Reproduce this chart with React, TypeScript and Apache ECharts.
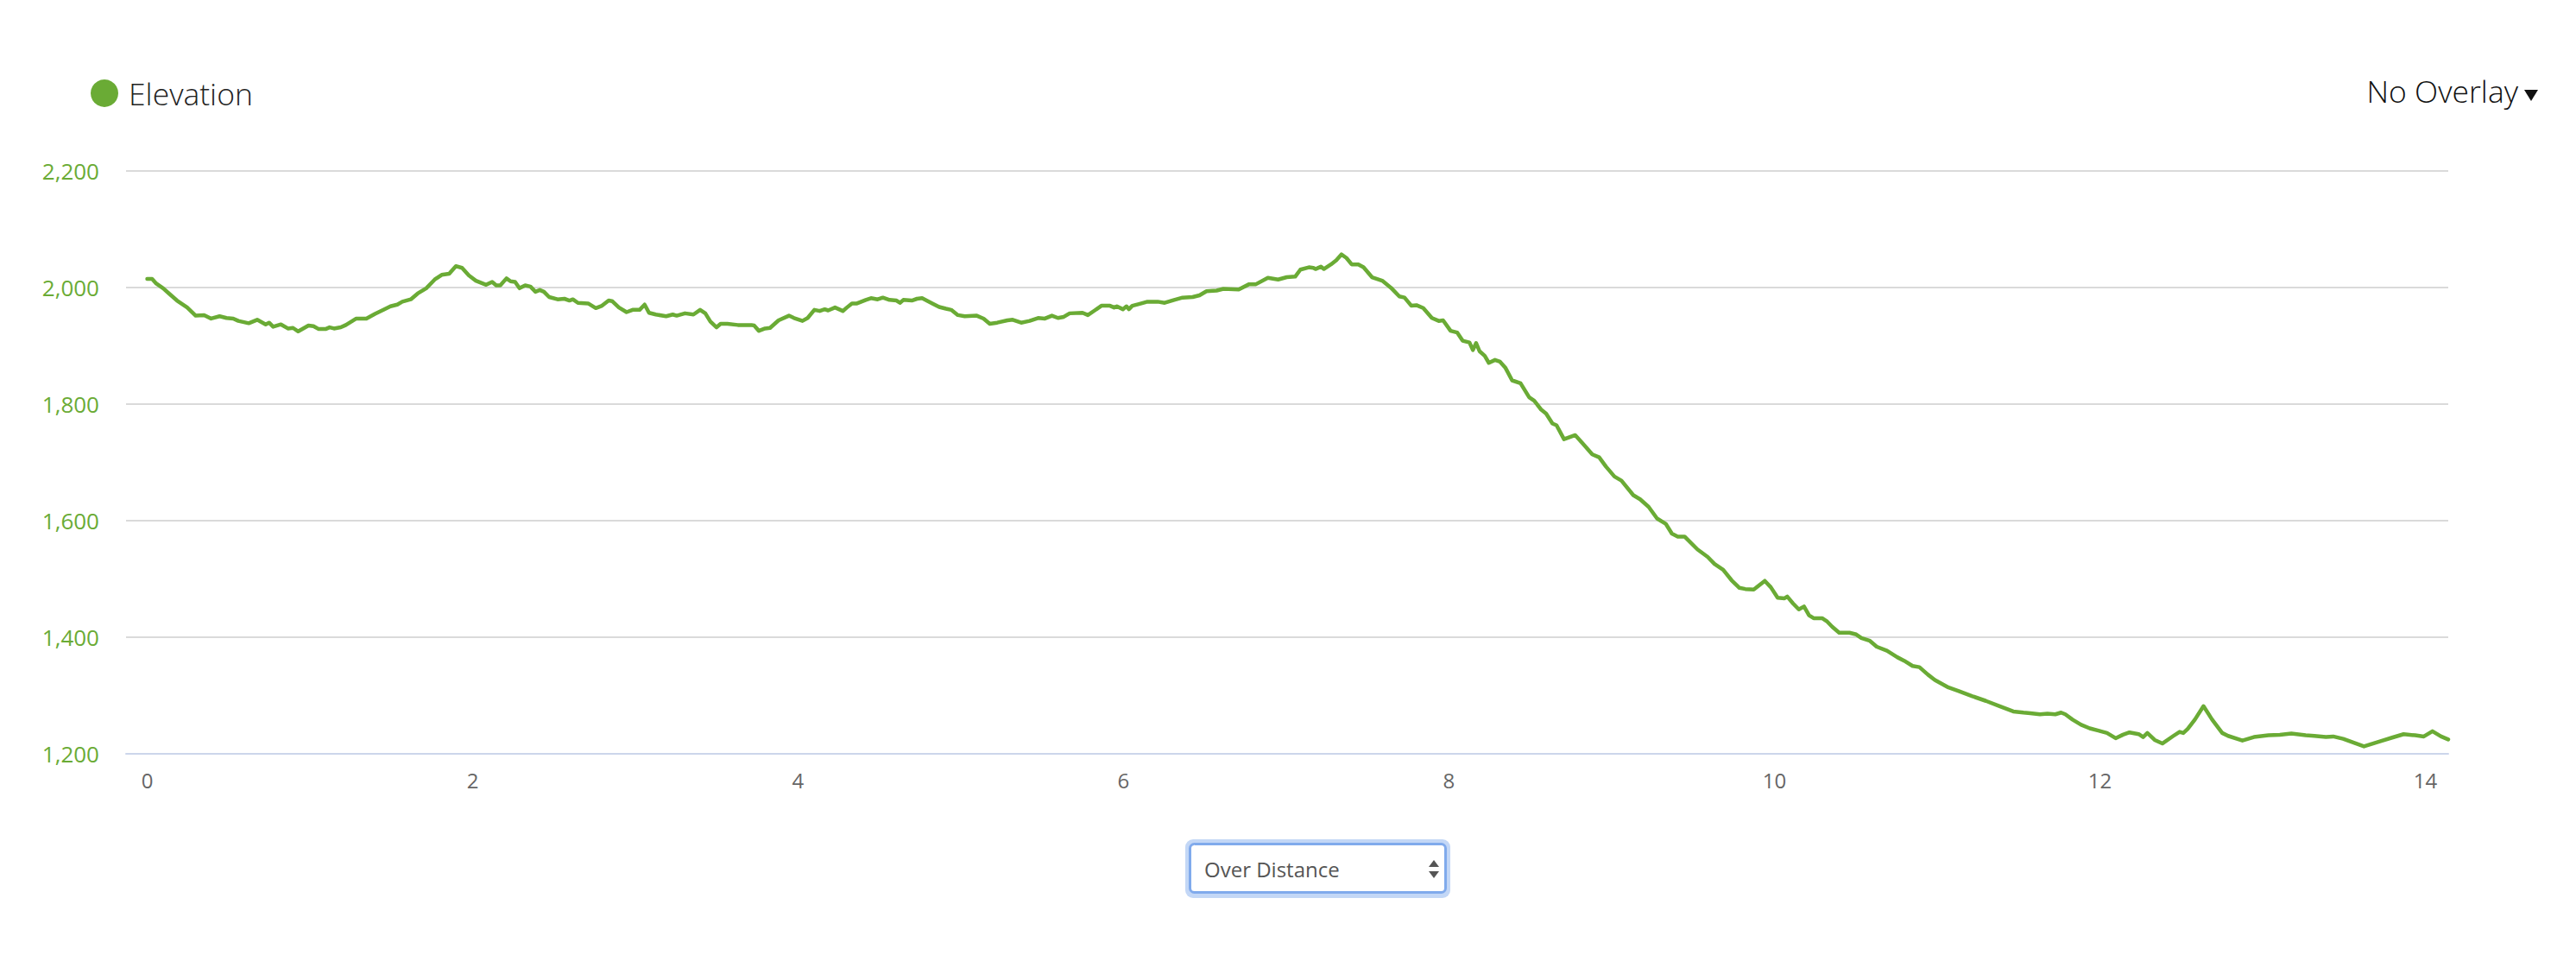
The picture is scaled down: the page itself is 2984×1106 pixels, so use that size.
import { useEffect, useRef } from "react";
import * as echarts from "echarts";

// [distance, elevation], split by stretch of the route
const startAndFirstRise: Array<[number, number]> = [
  [0, 2014], [0.03, 2014], [0.056, 2006], [0.098, 1998], [0.13, 1990], [0.183, 1977],
  [0.246, 1965], [0.298, 1951], [0.35, 1952], [0.393, 1946], [0.445, 1950], [0.487, 1947],
  [0.529, 1946], [0.56, 1942], [0.624, 1938], [0.676, 1944], [0.728, 1936], [0.749, 1939],
  [0.774, 1932], [0.822, 1936], [0.865, 1929], [0.896, 1930], [0.928, 1924], [0.991, 1934],
  [1.022, 1933], [1.054, 1928], [1.096, 1928], [1.121, 1931], [1.148, 1929], [1.19, 1931],
  [1.221, 1935], [1.285, 1946], [1.347, 1946], [1.4, 1954], [1.452, 1961], [1.495, 1967],
  [1.537, 1970], [1.568, 1975], [1.62, 1979], [1.662, 1989], [1.715, 1998], [1.767, 2013],
  [1.81, 2021], [1.856, 2023], [1.897, 2036], [1.935, 2033], [1.977, 2020], [2.02, 2011],
  [2.083, 2004], [2.12, 2009], [2.145, 2003], [2.17, 2003], [2.208, 2015], [2.233, 2010],
  [2.261, 2009], [2.288, 1998], [2.323, 2003], [2.355, 2001], [2.386, 1992], [2.413, 1995],
  [2.438, 1992], [2.47, 1983], [2.522, 1979], [2.564, 1980], [2.595, 1977], [2.616, 1979],
  [2.647, 1973], [2.71, 1972], [2.757, 1964], [2.795, 1968], [2.836, 1977], [2.857, 1976],
  [2.899, 1965], [2.946, 1957], [2.983, 1961], [3.026, 1961], [3.057, 1970], [3.084, 1956],
  [3.126, 1953],
];

const rollingMiddle: Array<[number, number]> = [
  [3.189, 1950], [3.23, 1953], [3.254, 1951], [3.305, 1955], [3.357, 1953], [3.398, 1961],
  [3.43, 1955], [3.461, 1941], [3.499, 1931], [3.524, 1937], [3.566, 1937], [3.63, 1935],
  [3.713, 1935], [3.73, 1934], [3.759, 1925], [3.797, 1929], [3.828, 1930], [3.88, 1943],
  [3.944, 1951], [3.975, 1947], [4.027, 1942], [4.059, 1947], [4.1, 1961], [4.133, 1959],
  [4.164, 1962], [4.185, 1960], [4.227, 1965], [4.275, 1959], [4.3, 1965], [4.331, 1972],
  [4.362, 1972], [4.416, 1978], [4.448, 1981], [4.489, 1979], [4.521, 1982], [4.562, 1978],
  [4.605, 1977], [4.626, 1973], [4.647, 1978], [4.699, 1977], [4.731, 1980], [4.762, 1981],
  [4.825, 1972], [4.867, 1966], [4.909, 1963], [4.941, 1961], [4.982, 1952], [5.024, 1950],
  [5.098, 1951], [5.14, 1946], [5.178, 1937], [5.224, 1939], [5.286, 1943], [5.319, 1944],
  [5.371, 1939], [5.423, 1942], [5.475, 1947], [5.517, 1946], [5.56, 1951], [5.597, 1947],
  [5.633, 1949], [5.669, 1955], [5.748, 1956], [5.781, 1952], [5.823, 1960], [5.864, 1968],
  [5.917, 1968], [5.942, 1965], [5.959, 1967], [5.996, 1962], [6.018, 1967], [6.033, 1962],
  [6.054, 1968], [6.095, 1971], [6.147, 1975], [6.21, 1975], [6.253, 1973], [6.311, 1978],
];

const summitAndDescent: Array<[number, number]> = [
  [6.363, 1982], [6.425, 1983], [6.467, 1986], [6.51, 1993], [6.572, 1994], [6.614, 1997],
  [6.708, 1996], [6.772, 2005], [6.814, 2005], [6.887, 2016], [6.95, 2013], [7.003, 2017],
  [7.055, 2018], [7.087, 2030], [7.139, 2034], [7.167, 2033], [7.18, 2031], [7.213, 2035],
  [7.231, 2031], [7.275, 2039], [7.307, 2046], [7.339, 2056], [7.37, 2050], [7.402, 2039],
  [7.443, 2039], [7.475, 2034], [7.527, 2017], [7.59, 2011], [7.643, 1999], [7.695, 1984],
  [7.727, 1982], [7.769, 1968], [7.8, 1969], [7.842, 1964], [7.895, 1947], [7.937, 1942],
  [7.964, 1943], [8.01, 1925], [8.051, 1922], [8.084, 1908], [8.126, 1905], [8.147, 1892],
  [8.167, 1904], [8.188, 1890], [8.22, 1882], [8.245, 1870], [8.283, 1875], [8.314, 1872],
  [8.346, 1862], [8.388, 1840], [8.44, 1835], [8.493, 1811], [8.524, 1805], [8.566, 1790],
  [8.597, 1783], [8.636, 1766], [8.661, 1763], [8.707, 1739], [8.776, 1746], [8.818, 1733],
  [8.881, 1713], [8.923, 1708], [8.965, 1692], [9.017, 1675], [9.06, 1668], [9.133, 1643],
  [9.175, 1636], [9.227, 1623], [9.279, 1603], [9.332, 1594], [9.37, 1577], [9.406, 1572],
  [9.448, 1572],
];

const lowerDescent: Array<[number, number]> = [
  [9.527, 1550], [9.59, 1537], [9.632, 1525], [9.685, 1515], [9.737, 1497], [9.785, 1484],
  [9.821, 1482], [9.873, 1481], [9.941, 1496], [9.978, 1485], [10.02, 1467], [10.062, 1466],
  [10.079, 1469], [10.115, 1457], [10.15, 1447], [10.182, 1452], [10.213, 1437], [10.241, 1432],
  [10.293, 1432], [10.325, 1426], [10.356, 1417], [10.398, 1407], [10.461, 1407], [10.503, 1404],
  [10.534, 1398], [10.587, 1393], [10.629, 1383], [10.692, 1376], [10.755, 1365], [10.797, 1359],
  [10.849, 1350], [10.891, 1348], [10.944, 1335], [10.986, 1326], [11.07, 1313], [11.133, 1307],
  [11.217, 1298], [11.3, 1290], [11.384, 1281], [11.468, 1272], [11.531, 1270], [11.573, 1269],
  [11.632, 1267], [11.678, 1268], [11.726, 1267],
];

const valleyFinish: Array<[number, number]> = [
  [11.762, 1270], [11.788, 1267], [11.832, 1258], [11.885, 1249], [11.938, 1243], [11.991, 1239],
  [12.044, 1235], [12.097, 1226], [12.142, 1232], [12.182, 1236], [12.239, 1233], [12.266, 1228],
  [12.292, 1235], [12.337, 1223], [12.384, 1217], [12.452, 1230], [12.49, 1237], [12.513, 1235],
  [12.54, 1242], [12.584, 1258], [12.637, 1281], [12.69, 1258], [12.752, 1235], [12.788, 1230],
  [12.876, 1222], [12.947, 1228], [13.036, 1231], [13.106, 1232], [13.177, 1234], [13.265, 1231],
  [13.318, 1230], [13.389, 1228], [13.434, 1229], [13.495, 1225], [13.623, 1212], [13.725, 1221],
  [13.796, 1227], [13.867, 1233], [13.938, 1231], [13.991, 1229], [14.044, 1238], [14.097, 1229],
  [14.141, 1224],
];

const xLabelValues = [0, 2, 4, 6, 8, 10, 12, 14];

const GREEN = "#6aab35";
const FONT = "'Open Sans', 'Noto Sans', sans-serif";

export default function App() {
  const chartRef = useRef<HTMLDivElement>(null);

  useEffect(() => {
    if (!chartRef.current) return;
    document.body.style.margin = "0";

    const chart = echarts.init(chartRef.current, null, { renderer: "svg" });

    const profile = [
      ...startAndFirstRise,
      ...rollingMiddle,
      ...summitAndDescent,
      ...lowerDescent,
      ...valleyFinish,
    ];

    chart.setOption({
      animation: false,
      backgroundColor: "#ffffff",
      textStyle: { fontFamily: FONT },
      legend: {
        data: ["Elevation"],
        left: 100,
        top: 85,
        icon: "circle",
        itemWidth: 32,
        itemHeight: 32,
        selectedMode: false,
        textStyle: {
          fontSize: 35.5,
          fontWeight: 300,
          color: "#222222",
          fontFamily: FONT,
          padding: [0, 0, 0, 7],
        },
      },
      grid: {
        left: 146,
        right: 148,
        top: 197.5,
        bottom: 233.5,
      },
      xAxis: {
        type: "value",
        min: -0.13,
        max: 14.141,
        z: 5,
        axisLine: {
          show: true,
          onZero: false,
          lineStyle: { color: "#ccd6eb", width: 2 },
        },
        axisTick: { show: false },
        splitLine: { show: false },
        axisLabel: {
          customValues: xLabelValues,
          color: "#666666",
          fontSize: 24,
          fontFamily: FONT,
          margin: 19,
        },
      },
      yAxis: {
        type: "value",
        min: 1200,
        max: 2200,
        interval: 200,
        axisLine: { show: false },
        axisTick: { show: false },
        splitLine: {
          show: true,
          lineStyle: { color: "#dadada", width: 2 },
        },
        axisLabel: {
          color: GREEN,
          fontSize: 26,
          fontFamily: FONT,
          margin: 31,
          formatter: (v: number) => v.toLocaleString("en-US"),
        },
      },
      series: [
        {
          name: "Elevation",
          type: "line",
          data: profile,
          showSymbol: false,
          symbol: "none",
          color: GREEN,
          lineStyle: { width: 4.5, color: GREEN, join: "round", cap: "round" },
        },
      ],
      graphic: [
        {
          type: "text",
          x: 2917,
          y: 105,
          style: {
            text: "No Overlay",
            align: "right",
            verticalAlign: "middle",
            fontSize: 35.5,
            fontWeight: 300,
            fontFamily: FONT,
            fill: "#111111",
          },
        },
        {
          type: "polygon",
          shape: { points: [[2924, 104], [2940, 104], [2932, 117]] },
          style: { fill: "#111111" },
        },
        // "Over Distance" select box under the chart
        {
          type: "rect",
          shape: { x: 1373, y: 972, width: 307, height: 68, r: 9 },
          style: { fill: "#c3d7f6" },
        },
        {
          type: "rect",
          shape: { x: 1378.5, y: 977.5, width: 296, height: 56, r: 5 },
          style: { fill: "#ffffff", stroke: "#80aaec", lineWidth: 3 },
        },
        {
          type: "text",
          x: 1395,
          y: 1006,
          style: {
            text: "Over Distance",
            verticalAlign: "middle",
            fontSize: 24,
            fontFamily: FONT,
            fill: "#555555",
          },
        },
        {
          type: "polygon",
          shape: { points: [[1655, 1004], [1667, 1004], [1661, 996]] },
          style: { fill: "#555555" },
        },
        {
          type: "polygon",
          shape: { points: [[1655, 1009], [1667, 1009], [1661, 1017]] },
          style: { fill: "#555555" },
        },
      ],
    });

    return () => {
      chart.dispose();
    };
  }, []);

  return <div ref={chartRef} style={{ width: "2984px", height: "1106px" }} />;
}
